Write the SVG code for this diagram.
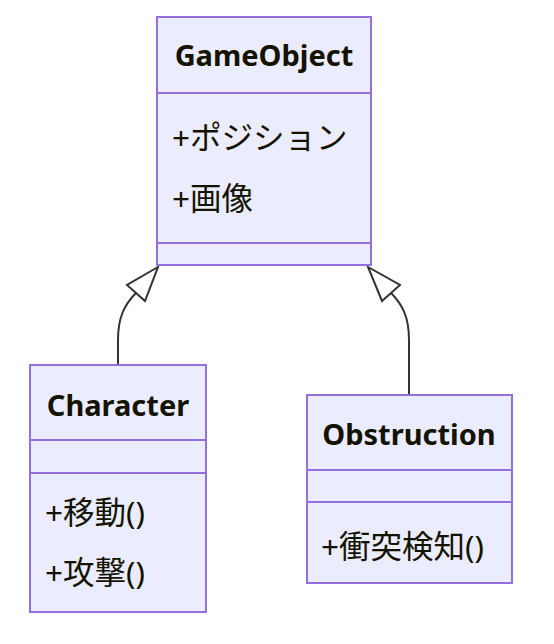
<svg xmlns="http://www.w3.org/2000/svg" width="554" height="644" viewBox="0 0 554 644">
<defs>
<style>
.box{fill:#ECECFF;stroke:#9370DB;stroke-width:2}
.div{stroke:#9370DB;stroke-width:2}
.t{font-family:"Noto Sans","Noto Sans CJK JP",sans-serif;fill:#131300}
.title{font-size:29px;font-weight:bold;text-anchor:middle}
.m{font-size:31.5px}
.edge{fill:none;stroke:#333;stroke-width:2}
</style>
</defs>
<rect width="554" height="644" fill="#fff"/>
<g id="edges">
<path class="edge" d="M118,365 L118,340 C118,318 124,305 136,293" />
<path d="M158,267 L127,285 L145,301 Z" fill="#fff" stroke="#333" stroke-width="2"/>
<path class="edge" d="M409,395 L409,340 C409,318 403,305 391,293" />
<path d="M368,267 L400,285 L382,301 Z" fill="#fff" stroke="#333" stroke-width="2"/>
</g>
<g id="GameObject">
<rect class="box" x="157" y="17" width="214" height="248"/>
<line class="div" x1="157" y1="93" x2="371" y2="93"/>
<line class="div" x1="157" y1="243" x2="371" y2="243"/>
<text class="t title" x="264" y="66">GameObject</text>
<text class="t m" x="172" y="149">+ポジション</text>
<text class="t m" x="172" y="210">+画像</text>
</g>
<g id="Character">
<rect class="box" x="30" y="365" width="176" height="247"/>
<line class="div" x1="30" y1="440" x2="206" y2="440"/>
<line class="div" x1="30" y1="473" x2="206" y2="473"/>
<text class="t title" x="118" y="416">Character</text>
<text class="t m" x="45" y="524">+移動()</text>
<text class="t m" x="45" y="584">+攻撃()</text>
</g>
<g id="Obstruction">
<rect class="box" x="307" y="395" width="205" height="188"/>
<line class="div" x1="307" y1="470" x2="512" y2="470"/>
<line class="div" x1="307" y1="502" x2="512" y2="502"/>
<text class="t title" x="409" y="445">Obstruction</text>
<text class="t m" x="321" y="558">+衝突検知()</text>
</g>
</svg>
